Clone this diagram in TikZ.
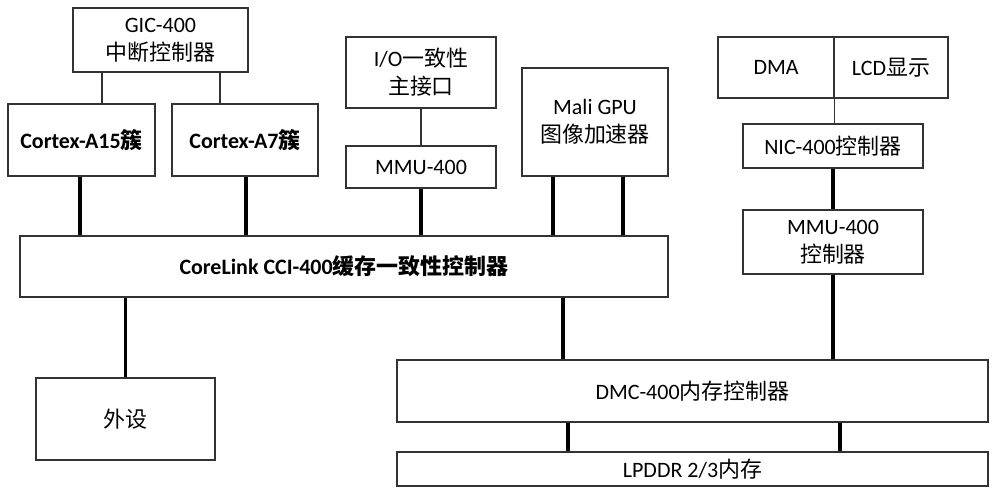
\documentclass[tikz,border=0pt]{standalone}
\usepackage{fontspec}
\setmainfont{Carlito}
\newfontfamily\cjk{Noto Sans CJK SC}
\usetikzlibrary{positioning}
\begin{document}
\begin{tikzpicture}[
    box/.style={draw=black!80,line width=0.6pt,inner sep=0pt,align=center,
      font=\fontsize{12.5}{16}\selectfont},
    thin/.style={draw=black!80,line width=0.6pt},
    bus/.style={draw=black,line width=2pt}
    ]
    \useasboundingbox (0,0) rectangle (20,9.96);

    \node [box,minimum width=3.5cm,minimum height=1.28cm] (gic) at (3.21,9.16) {GIC-400\\{\cjk 中断控制器}};
    \node [box,minimum width=2.94cm,minimum height=1.44cm,font=\fontsize{12.5}{16}\selectfont\bfseries] (a15) at (1.63,7.16) {Cortex-A15{\cjk\bfseries 簇}};
    \node [box,minimum width=2.92cm,minimum height=1.44cm,font=\fontsize{12.5}{16}\selectfont\bfseries] (a7) at (4.9,7.16) {Cortex-A7{\cjk\bfseries 簇}};
    \node [box,minimum width=3cm,minimum height=1.42cm] (io) at (8.42,8.51) {I/O{\cjk 一致性}\\{\cjk 主接口}};
    \node [box,minimum width=3cm,minimum height=0.84cm] (mmu) at (8.42,6.62) {MMU-400};
    \node [box,minimum width=2.92cm,minimum height=2.16cm] (mali) at (11.9,7.52) {Mali GPU\\{\cjk 图像加速器}};
    \node [box,minimum width=2.32cm,minimum height=1.22cm] (dma) at (15.52,8.61) {DMA};
    \node [box,minimum width=2.28cm,minimum height=1.22cm] (lcd) at (17.82,8.61) {LCD{\cjk 显示}};
    \node [box,minimum width=3.6cm,minimum height=0.88cm] (nic) at (16.66,7.04) {NIC-400{\cjk 控制器}};
    \node [box,minimum width=3.6cm,minimum height=1.28cm] (mmuctl) at (16.66,5.12) {MMU-400\\{\cjk 控制器}};
    \node [box,minimum width=12.96cm,minimum height=1.22cm,font=\fontsize{12.5}{16}\selectfont\bfseries] (cci) at (6.88,4.63) {CoreLink CCI-400{\cjk\bfseries 缓存一致性控制器}};
    \node [box,minimum width=3.58cm,minimum height=1.64cm] (periph) at (2.51,1.58) {{\cjk 外设}};
    \node [box,minimum width=11.82cm,minimum height=1.24cm] (dmc) at (13.85,2.14) {DMC-400{\cjk 内存控制器}};
    \node [box,minimum width=11.82cm,minimum height=0.68cm] (ddr) at (13.85,0.58) {LPDDR 2/3{\cjk 内存}};

    % thin links
    \draw [thin] (gic.south -| 2.04,0) -- (a15.north -| 2.04,0);
    \draw [thin] (gic.south -| 4.4,0) -- (a7.north -| 4.4,0);
    \draw [thin] (io) -- (mmu);
    \draw [thin] (dma.south east) -- (nic.north -| dma.east);

    % buses
    \draw [bus] (a15.south -| 1.6,0) -- (cci.north -| 1.6,0);
    \draw [bus] (a7.south -| 4.92,0) -- (cci.north -| 4.92,0);
    \draw [bus] (mmu) -- (cci.north -| mmu);
    \foreach \x in {11.06,12.46} {
      \draw [bus] (mali.south -| \x,0) -- (cci.north -| \x,0);
    }
    \draw [bus] (cci.south -| periph) -- (periph);
    \draw [bus] (cci.south -| 11.26,0) -- (dmc.north -| 11.26,0);
    \draw [bus] (nic) -- (mmuctl);
    \draw [bus] (mmuctl) -- (dmc.north -| mmuctl);
    \foreach \x in {11.36,16.8} {
      \draw [bus] (dmc.south -| \x,0) -- (ddr.north -| \x,0);
    }
\end{tikzpicture}
\end{document}
